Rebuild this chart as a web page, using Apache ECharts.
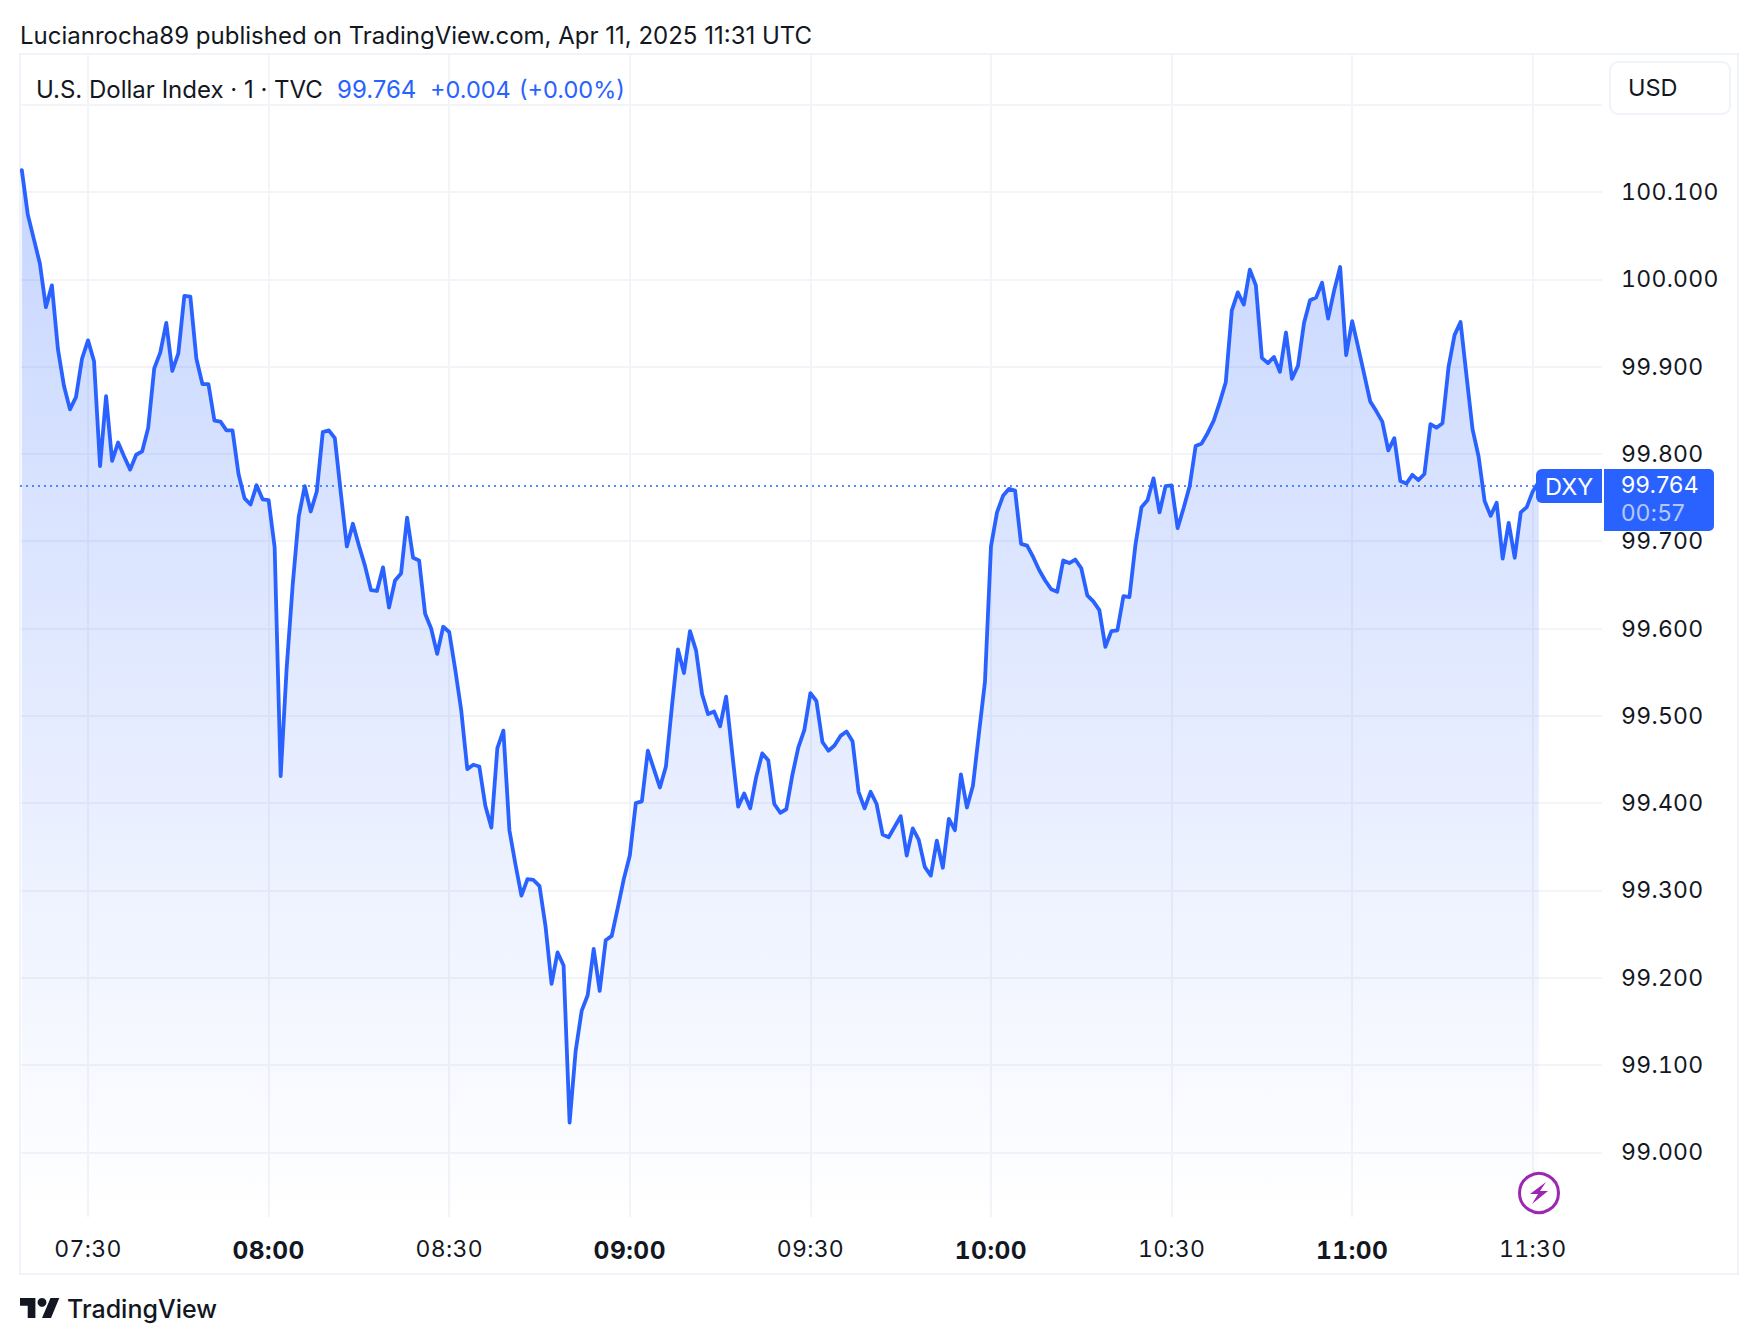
<!DOCTYPE html>
<html><head><meta charset="utf-8">
<style>html,body{margin:0;padding:0;background:#fff}#c{width:1758px;height:1344px}
svg text{font-feature-settings:"tnum" 1;}
svg text[style*="23px"]{letter-spacing:.3px;}
svg text[style*="24.5px"]{letter-spacing:.5px;}
</style>
<script src="https://cdn.jsdelivr.net/npm/echarts@6/dist/echarts.min.js"></script>
</head><body><div id="c"></div>
<script>
const firstMinute = 439; // 07:19
const values0719 = [100.125,100.074,100.046,100.018,99.968,99.993,99.920,99.878,99.851,99.865,99.909,99.930,99.906,99.786,99.866,99.792,99.813,99.797,99.782,99.799,99.803,99.830,99.898,99.916,99.950,99.895,99.915,99.981,99.980,99.909,99.880,99.880,99.838,99.837,99.827,99.827,99.777,99.749,99.742,99.764,99.748,99.747,99.693,99.431,99.555,99.650,99.728,99.763,99.734,99.757,99.825,99.827,99.818,99.755,99.694,99.720,99.695,99.672,99.644,99.643,99.670,99.624,99.655,99.663,99.727,99.681,99.678,99.617,99.600,99.571,99.602];
const values0830 = [99.596,99.553,99.506,99.439,99.444,99.442,99.397,99.372,99.463,99.483,99.369,99.330,99.294,99.313,99.312,99.305,99.259,99.193,99.229,99.214,99.034,99.116,99.162,99.180,99.233,99.185,99.243,99.248,99.280,99.313];
const values0900 = [99.340,99.400,99.402,99.460,99.439,99.418,99.442,99.511,99.576,99.549,99.597,99.575,99.525,99.502,99.505,99.488,99.522,99.458,99.396,99.411,99.394,99.430,99.457,99.449,99.399,99.389,99.393,99.432,99.464,99.484];
const values0930 = [99.526,99.517,99.470,99.460,99.466,99.477,99.482,99.471,99.413,99.394,99.413,99.399,99.364,99.361,99.373,99.385,99.340,99.371,99.358,99.327,99.317,99.357,99.326,99.382,99.369,99.433,99.395,99.420,99.480,99.539];
const values1000 = [99.694,99.733,99.752,99.760,99.758,99.697,99.695,99.682,99.667,99.655,99.645,99.642,99.678,99.675,99.679,99.669,99.638,99.631,99.621,99.579,99.597,99.598,99.637,99.636,99.696,99.739,99.747,99.772,99.733,99.763];
const values1030 = [99.764,99.715,99.738,99.763,99.809,99.812,99.824,99.838,99.859,99.882,99.964,99.985,99.971,100.011,99.993,99.910,99.904,99.911,99.894,99.939,99.886,99.901,99.950,99.976,99.979,99.996,99.955,99.987,100.014,99.913];
const values1100 = [99.952,99.922,99.891,99.860,99.849,99.837,99.804,99.818,99.769,99.766,99.776,99.770,99.777,99.834,99.830,99.835,99.899,99.936,99.951,99.889,99.828,99.797,99.746,99.729,99.744,99.680,99.721,99.681,99.733,99.739,99.757,99.768];
const closeValue = 99.764;
const priceTicks = [99.0,99.1,99.2,99.3,99.4,99.5,99.6,99.7,99.8,99.9,100.0,100.1];
const gridOnlyTicks = [100.2];
const timeMinutes = [450,480,510,540,570,600,630,660,690];
const timeLabels = ['07:30','08:00','08:30','09:00','09:30','10:00','10:30','11:00','11:30'];
const boldLabels = ['08:00','09:00','10:00','11:00'];

const allValues = [].concat(values0719,values0830,values0900,values0930,values1000,values1030,values1100);
const seriesData = allValues.map((v,i)=>[firstMinute+i,v]);
const FONT='Inter';
const BLUE='#2962ff';
const INK='#131722';
const chart = echarts.init(document.getElementById('c'),null,{renderer:'svg'});
function txt(x,y,text,size,fill,extra){
  return {type:'text',x:x,y:y,silent:true,z:50,style:Object.assign({text:text,font:'400 '+size+'px '+FONT,fill:fill,verticalAlign:'middle'},extra||{})};
}
chart.setOption({
  animation:false,
  backgroundColor:'#fff',
  grid:{left:20,top:54,width:1582,height:1163,containLabel:false},
  xAxis:{type:'value',min:438.7,max:701.5,
    axisLine:{show:false},
    axisTick:{show:false,customValues:timeMinutes},
    splitLine:{show:true,lineStyle:{color:'#f2f4f8',width:2}},
    axisLabel:{customValues:timeMinutes,margin:20,hideOverlap:false,showMinLabel:true,showMaxLabel:true,
      formatter:function(v){const s=timeLabels[timeMinutes.indexOf(v)];return boldLabels.includes(s)?'{b|'+s+'}':'{n|'+s+'}';},
      rich:{n:{fontFamily:FONT,fontSize:23,color:INK},b:{fontFamily:FONT,fontSize:24.5,fontWeight:700,color:INK}}}
  },
  yAxis:{type:'value',position:'right',min:98.926,max:100.258,scale:true,
    axisLine:{show:false},
    axisTick:{show:false,customValues:priceTicks.concat(gridOnlyTicks)},
    splitLine:{show:true,lineStyle:{color:'#f2f4f8',width:2}},
    axisLabel:{customValues:priceTicks,margin:19,align:'left',fontFamily:FONT,fontSize:23,color:INK,padding:[4,0,0,0],
      formatter:function(v){return v.toFixed(3);}}
  },
  series:[{type:'line',data:seriesData,showSymbol:false,symbol:'none',smooth:false,clip:true,
    lineStyle:{color:BLUE,width:3.8,join:'round',cap:'round',opacity:1},
    areaStyle:{origin:'start',opacity:1,color:new echarts.graphic.LinearGradient(0,0,0,1,[{offset:0,color:'rgba(41,98,255,0.26)'},{offset:1,color:'rgba(41,98,255,0.0)'}])},
    markLine:{silent:true,symbol:'none',animation:false,precision:3,label:{show:false},
      lineStyle:{color:BLUE,width:1.6,type:[2,4],opacity:1},
      data:[{yAxis:closeValue}]}
  }],
  graphic:[
    {type:'rect',shape:{x:20,y:54,width:1718,height:1220},silent:true,z:1,style:{fill:'none',stroke:'#f0f3fa',lineWidth:2}},
    txt(20,35,'Lucianrocha89 published on TradingView.com, Apr 11, 2025 11:31 UTC',24,INK),
    txt(36,89,'U.S. Dollar Index · 1 · TVC',24,INK),
    txt(337,89,'99.764',24,BLUE),
    txt(430,89,'+0.004',23.5,BLUE),
    txt(519,89,'(+0.00%)',23.5,BLUE),
    {type:'rect',z:40,silent:true,shape:{x:1610,y:62,width:120,height:52,r:8},style:{fill:'#fff',stroke:'#f0f3fa',lineWidth:2}},
    txt(1628,87,'USD',23.5,INK),
    {type:'rect',z:40,silent:true,shape:{x:1536,y:469,width:66,height:34,r:[6,0,0,6]},style:{fill:BLUE}},
    txt(1545,486,'DXY',23.5,'#fff'),
    {type:'rect',z:40,silent:true,shape:{x:1604,y:469,width:110,height:62,r:[0,5,5,0]},style:{fill:BLUE}},
    txt(1621,485,'99.764',23,'#fff'),
    txt(1621,513,'00:57',23,'#b4c8fb'),
    {type:'circle',z:40,silent:true,shape:{cx:1539,cy:1193,r:19.5},style:{fill:'#fff',stroke:'#9c27b0',lineWidth:3}},
    {type:'polygon',z:41,silent:true,shape:{points:[[1546,1182],[1530,1194],[1538,1194],[1532,1204],[1548,1191],[1540,1191]]},style:{fill:'#9c27b0'}},
    {type:'polygon',z:41,silent:true,shape:{points:[[20,1298],[35.4,1298],[35.4,1318],[27.7,1318],[27.7,1305.7],[20,1305.7]]},style:{fill:INK}},
    {type:'circle',z:41,silent:true,shape:{cx:42,cy:1302.4,r:4.4},style:{fill:INK}},
    {type:'polygon',z:41,silent:true,shape:{points:[[50.5,1298],[59.3,1298],[51,1318],[42,1318]]},style:{fill:INK}},
    txt(67,1309,'TradingView',25,INK,{font:'500 25px '+FONT})
  ]
});
</script></body></html>
